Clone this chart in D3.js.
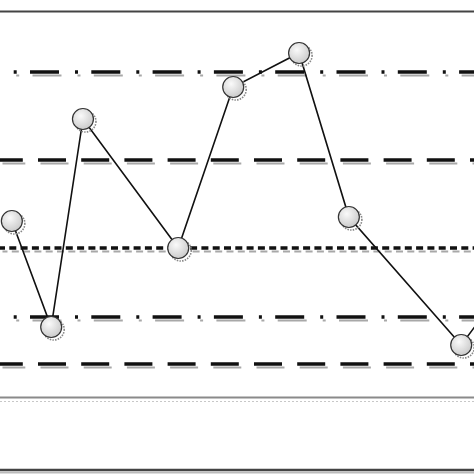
<!DOCTYPE html>
<html>
<head>
<meta charset="utf-8">
<script src="https://cdn.jsdelivr.net/npm/d3@7"></script>
<style>
  body { margin: 0; background: #fff; }
  svg { display: block; overflow: hidden; }
</style>
</head>
<body>
<script>
// sample positions (time units) and measured values
const times = [2.5, 10.8, 17.5, 37.6, 49.2, 63.1, 73.6, 97.3, 103.4];
const values = [6.75, -19.75, 32.25, 0, 40.25, 48.75, 7.75, -24.25, -14.5];

// control / warning limits
const limitNames = ["UCL", "UWL", "CL", "LCL", "LWL"];
const limitValues = [44, 22, 0, -17.25, -29];
const limitKinds = ["dashdot", "dash", "center", "dashdot", "dash"];

const width = 474, height = 474;

const svg = d3.select("body")
  .append("svg")
    .attr("width", width)
    .attr("height", height);

const x = d3.scaleLinear().domain([0, 100]).range([0, 474]);
const y = d3.scaleLinear().domain([-37.5, 59]).range([398, 12]);

const dashStyle = {
  dashdot: {array: "29,16,3,13.3", offset: 31.3},
  dash: {array: "28,15.2", offset: 5.2},
  center: {array: "7,4.3", offset: 2}
};

const defs = svg.append("defs");
const grad = defs.append("radialGradient")
    .attr("id", "ball")
    .attr("cx", "40%").attr("cy", "35%").attr("r", "70%");
grad.append("stop").attr("offset", "0%").attr("stop-color", "#fafafa");
grad.append("stop").attr("offset", "100%").attr("stop-color", "#c8c8c8");

// frame
svg.append("line")
    .attr("x1", 0).attr("x2", width).attr("y1", 11.5).attr("y2", 11.5)
    .attr("stroke", "#444").attr("stroke-width", 2);
svg.append("line")
    .attr("x1", 0).attr("x2", width).attr("y1", 397.5).attr("y2", 397.5)
    .attr("stroke", "#8a8a8a").attr("stroke-width", 2);
svg.append("line")
    .attr("x1", 0).attr("x2", width).attr("y1", 401.5).attr("y2", 401.5)
    .attr("stroke", "#c8c8c8").attr("stroke-width", 1)
    .attr("stroke-dasharray", "2,2");
svg.append("line")
    .attr("x1", 0).attr("x2", width).attr("y1", 470).attr("y2", 470)
    .attr("stroke", "#444").attr("stroke-width", 2.5);
svg.append("line")
    .attr("x1", 0).attr("x2", width).attr("y1", 472.5).attr("y2", 472.5)
    .attr("stroke", "#bbb").attr("stroke-width", 2);

// limit lines with their shadows
const limits = svg.append("g").selectAll("g")
  .data(limitValues.map((v, i) => ({name: limitNames[i], value: v, kind: limitKinds[i]})))
  .enter().append("g")
    .attr("class", d => "limit " + d.name);

limits.append("line")
    .attr("x1", 0).attr("x2", width)
    .attr("y1", d => y(d.value) + 3.5).attr("y2", d => y(d.value) + 3.5)
    .attr("transform", "translate(2.5,0)")
    .attr("stroke", "#a8a8a8").attr("stroke-width", 2)
    .attr("stroke-dasharray", d => dashStyle[d.kind].array)
    .attr("stroke-dashoffset", d => dashStyle[d.kind].offset);

limits.append("line")
    .attr("x1", 0).attr("x2", width)
    .attr("y1", d => y(d.value)).attr("y2", d => y(d.value))
    .attr("stroke", "#111").attr("stroke-width", 3.6)
    .attr("stroke-dasharray", d => dashStyle[d.kind].array)
    .attr("stroke-dashoffset", d => dashStyle[d.kind].offset);

// measurements
const points = times.map((t, i) => ({t: t, v: values[i]}));

svg.append("path")
    .datum(points)
    .attr("fill", "none")
    .attr("stroke", "#111")
    .attr("stroke-width", 1.6)
    .attr("d", d3.line().x(d => x(d.t)).y(d => y(d.v)));

const node = svg.append("g").selectAll("g")
  .data(points)
  .enter().append("g")
    .attr("transform", d => `translate(${x(d.t)},${y(d.v)})`);

node.append("circle")
    .attr("cx", 2.5).attr("cy", 2.5)
    .attr("r", 10.5)
    .attr("fill", "none")
    .attr("stroke", "#888")
    .attr("stroke-width", 1.6)
    .attr("stroke-dasharray", "1.5,1.2");

node.append("circle")
    .attr("r", 10.5)
    .attr("fill", "url(#ball)")
    .attr("stroke", "#333")
    .attr("stroke-width", 1.2);
</script>
</body>
</html>
